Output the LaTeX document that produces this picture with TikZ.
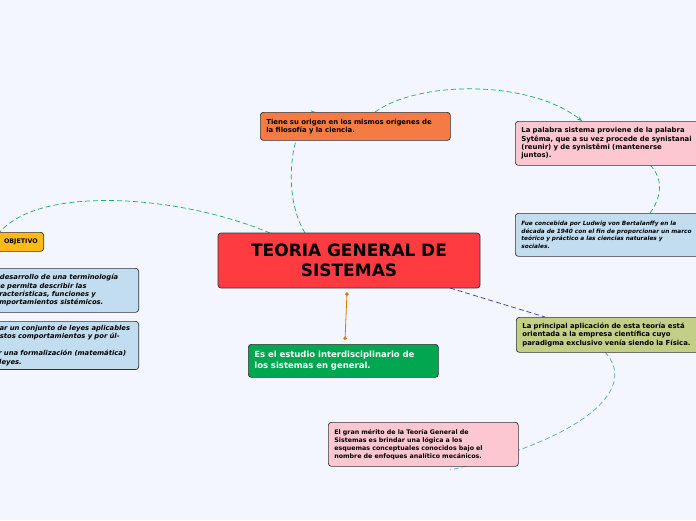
\documentclass[tikz,border=0pt]{standalone}
\usepackage{fontspec}
\setmainfont{DejaVu Sans}
\usetikzlibrary{arrows.meta}
\definecolor{bgc}{HTML}{F3F6FE}
\definecolor{redc}{HTML}{FF3B42}
\definecolor{orc}{HTML}{F47B44}
\definecolor{pkc}{HTML}{FDC7D1}
\definecolor{blc}{HTML}{C3DDF0}
\definecolor{olc}{HTML}{C3CE86}
\definecolor{dgc}{HTML}{00A650}
\definecolor{yec}{HTML}{FCBB14}
\definecolor{lnk}{HTML}{1FAA63}
\tikzset{
  topic/.style={draw=black!80, rounded corners=3pt, line width=0.7pt, anchor=north west, align=left, inner sep=4pt, inner xsep=6pt, text width=190pt, font=\bfseries\fontsize{6.9}{8.3}\selectfont},
  link/.style={lnk, dash pattern=on 5pt off 3pt, line width=0.7pt}
}
\begin{document}
\begin{tikzpicture}[x=1pt,y=-1pt]
    \useasboundingbox (0,0) rectangle (696,520);
    \fill[bgc] (0,0) rectangle (696,520);
    \clip (0,0) rectangle (696,520);
    % Conexiones
    \draw[link] (305,233) .. controls (285,200) and (290,150) .. (300,130);
    \draw[link] (300,130) .. controls (320,100) and (305,112) .. (315,112);
    \draw[link, -{Stealth[length=5pt]}] (375,112) .. controls (420,80) and (530,80) .. (582,121);
    \draw[link] (650,165) .. controls (665,180) and (660,200) .. (650,213);
    \draw[link] (270,233) .. controls (180,195) and (40,185) .. (0,232);
    \draw[dash pattern=on 5pt off 3pt, blue!60!black!80, line width=0.7pt] (450,288) -- (545,317);
    \draw[cyan!70!blue!70, dash pattern=on 5pt off 3pt, line width=0.7pt] (605,352) .. controls (640,390) and (580,440) .. (450,470);
    % Nodos
    \node[topic, fill=redc, text width=250pt, minimum height=55pt, align=center, anchor=center, font=\bfseries\fontsize{17}{20}\selectfont] (tgs) at (349,260.5) {TEORIA GENERAL DE\\SISTEMAS};
    \node[topic, fill=orc, text width=178pt, minimum height=28pt] (ori) at (260,112) {Tiene su origen en los mismos orígenes de\\la filosofía y la ciencia.};
    \node[topic, fill=pkc, minimum height=44pt] (pal) at (515,121) {La palabra sistema proviene de la palabra\\Sytêma, que a su vez procede de synistanai\\(reunir) y de synistêmi (mantenerse\\juntos).};
    \node[topic, fill=blc, minimum height=43pt, font=\bfseries\itshape\fontsize{5.8}{7.6}\selectfont] (ber) at (515,213) {Fue concebida por Ludwig von Bertalanffy en la\\década de 1940 con el fin de proporcionar un marco\\teórico y práctico a las ciencias naturales y\\sociales.};
    \node[topic, fill=olc, minimum height=35pt, font=\bfseries\fontsize{6.9}{8.4}\selectfont] (apl) at (516,317) {La principal aplicación de esta teoría está\\orientada a la empresa científica cuyo\\paradigma exclusivo venía siendo la Física.};
    \node[topic, fill=pkc, text width=178pt, minimum height=44pt, font=\bfseries\fontsize{6.3}{8}\selectfont] (mer) at (328,422) {El gran mérito de la Teoría General de\\Sistemas es brindar una lógica a los\\esquemas conceptuales conocidos bajo el\\nombre de enfoques analítico mecánicos.};
    \node[topic, fill=dgc, text width=178pt, text=white, minimum height=33pt, font=\bfseries\fontsize{8.5}{10.5}\selectfont] (est) at (248,344) {Es el estudio interdisciplinario de\\los sistemas en general.};
    \node[topic, fill=yec, text width=42pt, align=right, minimum height=19pt, anchor=north east, font=\bfseries\fontsize{6.3}{8}\selectfont] (obj) at (44,232) {OBJETIVO};
    \node[topic, fill=blc, minimum height=44pt, anchor=north east, font=\bfseries\itshape\fontsize{6.8}{8.4}\selectfont] (ter) at (139,268) {\hspace*{48pt}El desarrollo de una terminología\\\hspace*{48pt}que permita describir las\\\hspace*{48pt}características, funciones y\\\hspace*{48pt}comportamientos sistémicos.};
    \node[topic, fill=blc, minimum height=45pt, anchor=north east, font=\bfseries\itshape\fontsize{6.8}{8.4}\selectfont] (ley) at (139,321) {\hspace*{22pt}Desarrollar un conjunto de leyes aplicables\\\hspace*{22pt}a todos estos comportamientos y por último\\\hspace*{22pt}promover una formalización (matemática)\\\hspace*{22pt}de estas leyes.};
    \draw[orange!90!black, line width=0.8pt, {Circle[length=3.5pt]}-{Circle[length=3.5pt]}] (tgs.south) ++(-2,4) -- (345,340);
\end{tikzpicture}
\end{document}
